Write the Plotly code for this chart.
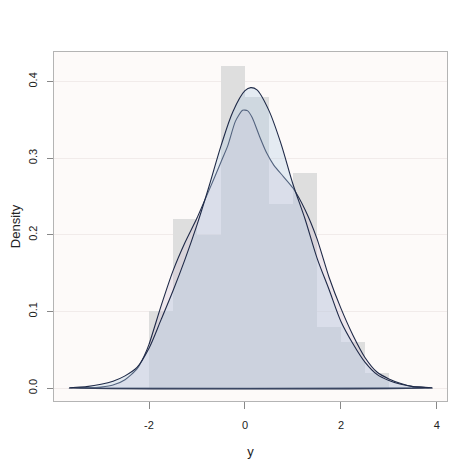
import plotly.graph_objects as go

# Histogram (density scale), bin width 0.5
bin_left = [-2.0, -1.5, -1.0, -0.5, 0.0, 0.5, 1.0, 1.5, 2.0, 2.5]
bin_density = [0.10, 0.22, 0.20, 0.42, 0.38, 0.24, 0.28, 0.08, 0.06, 0.02]
bin_width = 0.5

# Smooth density curve (higher peak)
a_x = [-3.66, -3.3, -3.0, -2.75, -2.5, -2.25, -2.0, -1.75, -1.5, -1.25, -1.0, -0.75,
       -0.5, -0.25, 0.0, 0.12, 0.25, 0.5, 0.75, 1.0, 1.25, 1.5, 1.75, 2.0, 2.25,
       2.5, 2.75, 3.0, 3.25, 3.5, 3.9]
a_y = [0.0003, 0.002, 0.005, 0.009, 0.016, 0.027, 0.052, 0.089, 0.127, 0.168, 0.213, 0.263,
       0.316, 0.361, 0.388, 0.392, 0.389, 0.362, 0.319, 0.266, 0.221, 0.170, 0.129, 0.087, 0.058,
       0.034, 0.018, 0.010, 0.005, 0.002, 0.0003]

# Kernel density curve (with shoulder)
b_x = [-3.66, -3.25, -3.0, -2.75, -2.5, -2.25, -2.1, -2.0, -1.75, -1.5, -1.25, -1.0, -0.75,
       -0.5, -0.36, -0.2, -0.05, 0.05, 0.15, 0.3, 0.45, 0.6, 0.8, 1.0, 1.25, 1.5, 1.75, 2.0, 2.25,
       2.5, 2.75, 3.0, 3.25, 3.5, 3.9]
b_y = [0.0002, 0.0005, 0.0015, 0.004, 0.011, 0.025, 0.042, 0.057, 0.107, 0.153, 0.190, 0.222, 0.258,
       0.295, 0.316, 0.348, 0.3625, 0.362, 0.353, 0.329, 0.307, 0.291, 0.276, 0.261, 0.233, 0.195,
       0.145, 0.104, 0.069, 0.040, 0.021, 0.012, 0.006, 0.002, 0.0003]

x_ticks = [-2, 0, 2, 4]
y_ticks = [0.0, 0.1, 0.2, 0.3, 0.4]

bar_centers = [b + bin_width / 2 for b in bin_left]

fig = go.Figure()
fig.add_trace(go.Bar(
    x=bar_centers, y=bin_density, width=bin_width,
    marker=dict(color="#dedede", line=dict(width=0)),
    hoverinfo="skip", showlegend=False,
))

line_col = "#1f2a48"
fig.add_trace(go.Scatter(
    x=b_x + [b_x[0]], y=b_y + [b_y[0]], mode="lines", fill="toself",
    fillcolor="rgba(205,190,210,0.30)",
    line=dict(color=line_col, width=1.1, shape="spline", smoothing=0.6),
    showlegend=False, hoverinfo="skip",
))
fig.add_trace(go.Scatter(
    x=a_x + [a_x[0]], y=a_y + [a_y[0]], mode="lines", fill="toself",
    fillcolor="rgba(180,205,230,0.35)",
    line=dict(color=line_col, width=1.1, shape="spline", smoothing=0.9),
    showlegend=False, hoverinfo="skip",
))

font = dict(family="Liberation Sans, Arial, sans-serif", size=11, color="#222222")

# page body adds an 8px offset, so the figure is sized to end at the window edge
fig.update_layout(
    width=466, height=451,
    margin=dict(l=46, r=27, t=44, b=58),
    paper_bgcolor="white",
    plot_bgcolor="#fdfaf9",
    font=font,
    bargap=0,
    xaxis=dict(
        range=[-3.98, 4.21], tickvals=x_ticks, ticktext=[str(v) for v in x_ticks],
        ticks="outside", ticklen=7, tickcolor="#888888", tickwidth=1,
        ticklabelstandoff=7,
        showgrid=False, zeroline=False, automargin=False,
        showline=True, linecolor="#b4b4b4", linewidth=1, mirror=True,
        title=dict(text="y", standoff=16),
    ),
    yaxis=dict(
        range=[-0.0168, 0.4385], tickvals=y_ticks, ticktext=["0.0", "0.1", "0.2", "0.3", "0.4"],
        ticks="outside", ticklen=6, tickcolor="#888888", tickwidth=1, tickangle=-90,
        ticklabelstandoff=6,
        showgrid=True, gridcolor="#f1ebea", gridwidth=1, zeroline=False, automargin=False,
        showline=True, linecolor="#b4b4b4", linewidth=1, mirror=True,
        title=dict(text="Density", standoff=12),
    ),
)

fig.write_html("out.html")
